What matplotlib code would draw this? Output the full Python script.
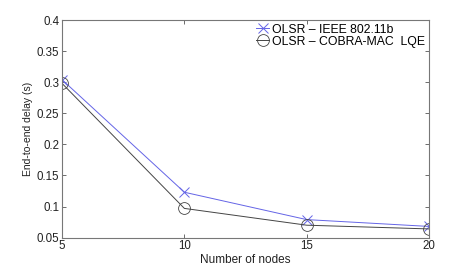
import matplotlib
matplotlib.use("Agg")
import matplotlib.pyplot as plt

nodes = [5, 10, 15, 20]
olsr_ieee = [0.304, 0.123, 0.079, 0.068]
olsr_cobra = [0.298, 0.097, 0.070, 0.064]
labels = ["OLSR – IEEE 802.11b", "OLSR – COBRA-MAC  LQE"]
xticks = [5, 10, 15, 20]
yticks = [0.05, 0.1, 0.15, 0.2, 0.25, 0.3, 0.35, 0.4]

plt.rcParams['font.family'] = ['Liberation Sans', 'DejaVu Sans']
fig = plt.figure(figsize=(4.74, 2.67), dpi=100)
ax = fig.add_axes([0.131, 0.110, 0.774, 0.815])

ax.plot(nodes, olsr_ieee, color='#6464e6', lw=0.7, marker='x', ms=7, mew=0.7, label=labels[0])
ax.plot(nodes, olsr_cobra, color='#444444', lw=0.7, marker='o', ms=8.5, mfc='none', mew=0.6, label=labels[1])

ax.set_xlim(5, 20)
ax.set_ylim(0.05, 0.4)
ax.set_xticks(xticks)
ax.set_xticklabels([str(v) for v in xticks])
ax.set_yticks(yticks)
ax.set_yticklabels(['0.05', '0.1', '0.15', '0.2', '0.25', '0.3', '0.35', '0.4'])
ax.tick_params(direction='in', top=True, right=True, length=3, width=0.6,
               labelsize=8.3, colors='#555555', labelcolor='#222222', pad=2)
for s in ax.spines.values():
    s.set_color('#777777')
    s.set_linewidth(0.8)
ax.set_xlabel('Number of nodes', fontsize=8.5, labelpad=1, color='#222222')
ax.set_ylabel('End-to-end delay (s)', fontsize=7.5, labelpad=3, color='#222222')

leg = ax.legend(loc='upper right', frameon=False, fontsize=8.8, handlelength=1.0,
                handletextpad=0.3, borderaxespad=0.1, labelspacing=0.0,
                borderpad=0.2)

fig.savefig('out.png', dpi=100)
